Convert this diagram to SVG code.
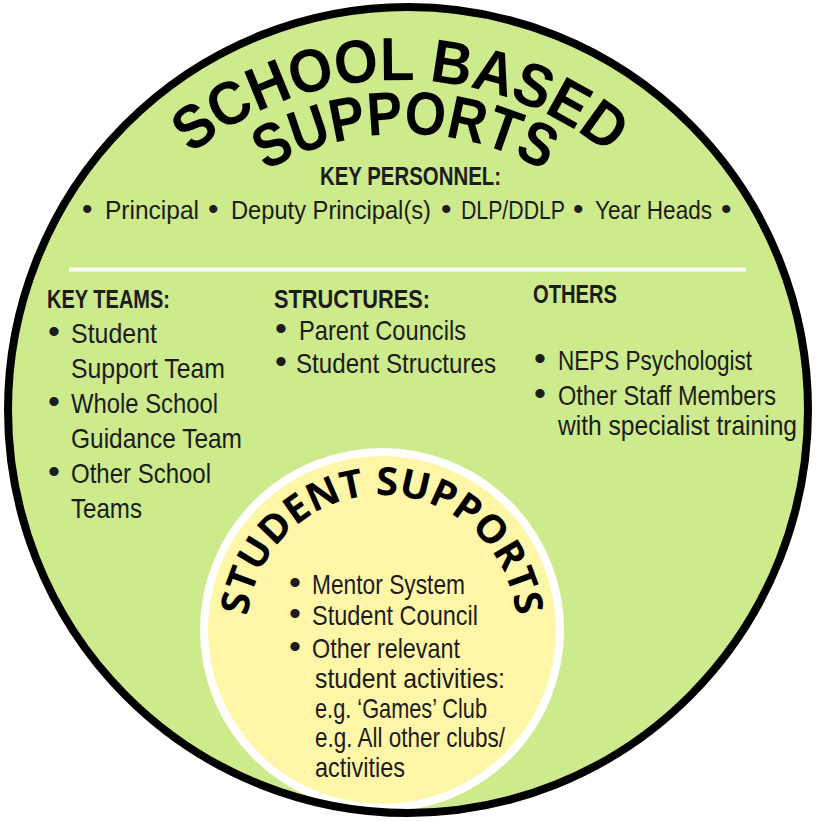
<svg xmlns="http://www.w3.org/2000/svg" width="818" height="821" viewBox="0 0 818 821">
<style>
.t{font-family:"Liberation Sans",Arial,sans-serif;font-size:28px;fill:#1c1c1c}
.b{font-family:"Liberation Sans",Arial,sans-serif;font-size:34px;fill:#1c1c1c}
.h{font-family:"Liberation Sans",Arial,sans-serif;font-size:26px;font-weight:700;fill:#1c1c1c}
.kp{font-family:"Liberation Sans",Arial,sans-serif;font-size:26px;fill:#1c1c1c}
.kb{font-family:"Liberation Sans",Arial,sans-serif;font-size:30px;fill:#1c1c1c}
.title{font-family:"Liberation Sans",Arial,sans-serif;font-size:61px;font-weight:700;fill:#000}
.sub{font-family:"Open Sans","Liberation Sans",sans-serif;font-size:39px;font-weight:700;fill:#000}
</style>
<defs>
<path id="arc1" d="M 70 410 A 330 330 0 0 1 730 410"/>
<path id="arc2" d="M 125 414 A 280 280 0 0 1 685 414"/>
<path id="arc3" d="M 247 630 A 135 135 0 0 1 517 630"/>
<clipPath id="inside"><ellipse cx="408" cy="410" rx="400" ry="403"/></clipPath>
</defs>
<rect width="818" height="821" fill="#ffffff"/>
<g id="school-based-supports">
<ellipse cx="408" cy="410" rx="400" ry="403" fill="#cdea8c"/>
<text class="title"><textPath href="#arc1" startOffset="50%" text-anchor="middle" textLength="452" lengthAdjust="spacingAndGlyphs">SCHOOL BASED</textPath></text>
<text class="title"><textPath href="#arc2" startOffset="50%" text-anchor="middle" textLength="292" lengthAdjust="spacingAndGlyphs">SUPPORTS</textPath></text>
</g>
<g id="key-personnel">
<text class="h" x="320" y="185" textLength="181" lengthAdjust="spacingAndGlyphs">KEY PERSONNEL:</text>
<text y="219"><tspan class="kb" x="82">•</tspan><tspan class="kp" x="105" textLength="94" lengthAdjust="spacingAndGlyphs">Principal</tspan><tspan class="kb" x="208">•</tspan><tspan class="kp" x="231" textLength="200" lengthAdjust="spacingAndGlyphs">Deputy Principal(s)</tspan><tspan class="kb" x="441">•</tspan><tspan class="kp" x="461" textLength="104" lengthAdjust="spacingAndGlyphs">DLP/DDLP</tspan><tspan class="kb" x="573">•</tspan><tspan class="kp" x="595" textLength="117" lengthAdjust="spacingAndGlyphs">Year Heads</tspan><tspan class="kb" x="721">•</tspan></text>
</g>
<g id="connectors">
<line x1="69" y1="269.5" x2="746" y2="269.5" stroke="#ffffff" stroke-width="4"/>
</g>
<g id="key-teams">
<text class="h" x="47" y="308" textLength="123" lengthAdjust="spacingAndGlyphs">KEY TEAMS:</text>
<text y="343"><tspan class="b" x="48">•</tspan><tspan class="t" x="71" textLength="86" lengthAdjust="spacingAndGlyphs">Student</tspan></text>
<text class="t" x="71" y="378" textLength="154" lengthAdjust="spacingAndGlyphs">Support Team</text>
<text y="413"><tspan class="b" x="48">•</tspan><tspan class="t" x="71" textLength="147" lengthAdjust="spacingAndGlyphs">Whole School</tspan></text>
<text class="t" x="71" y="448" textLength="171" lengthAdjust="spacingAndGlyphs">Guidance Team</text>
<text y="483"><tspan class="b" x="48">•</tspan><tspan class="t" x="71" textLength="140" lengthAdjust="spacingAndGlyphs">Other School</tspan></text>
<text class="t" x="71" y="518" textLength="71" lengthAdjust="spacingAndGlyphs">Teams</text>
</g>
<g id="structures">
<text class="h" x="274" y="308" textLength="156" lengthAdjust="spacingAndGlyphs">STRUCTURES:</text>
<text y="340"><tspan class="b" x="275">•</tspan><tspan class="t" x="299" textLength="167" lengthAdjust="spacingAndGlyphs">Parent Councils</tspan></text>
<text y="373"><tspan class="b" x="275">•</tspan><tspan class="t" x="296" textLength="200" lengthAdjust="spacingAndGlyphs">Student Structures</tspan></text>
</g>
<g id="others">
<text class="h" x="533" y="303" textLength="84" lengthAdjust="spacingAndGlyphs">OTHERS</text>
<text y="370"><tspan class="b" x="534">•</tspan><tspan class="t" x="558" textLength="194" lengthAdjust="spacingAndGlyphs">NEPS Psychologist</tspan></text>
<text y="405"><tspan class="b" x="534">•</tspan><tspan class="t" x="558" textLength="218" lengthAdjust="spacingAndGlyphs">Other Staff Members</tspan></text>
<text class="t" x="558" y="435" textLength="239" lengthAdjust="spacingAndGlyphs">with specialist training</text>
</g>
<g id="student-supports" clip-path="url(#inside)">
<circle cx="382" cy="630" r="178" fill="#fff6a8" stroke="#ffffff" stroke-width="8"/>
<text class="sub"><textPath href="#arc3" startOffset="50%" text-anchor="middle" textLength="396" lengthAdjust="spacingAndGlyphs">STUDENT SUPPORTS</textPath></text>
<text y="594"><tspan class="b" x="289">•</tspan><tspan class="t" x="312" textLength="153" lengthAdjust="spacingAndGlyphs">Mentor System</tspan></text>
<text y="625"><tspan class="b" x="289">•</tspan><tspan class="t" x="312" textLength="166" lengthAdjust="spacingAndGlyphs">Student Council</tspan></text>
<text y="658"><tspan class="b" x="289">•</tspan><tspan class="t" x="312" textLength="148" lengthAdjust="spacingAndGlyphs">Other relevant</tspan></text>
<text class="t" x="315" y="688" textLength="190" lengthAdjust="spacingAndGlyphs">student activities:</text>
<text class="t" x="315" y="718" textLength="172" lengthAdjust="spacingAndGlyphs">e.g. ‘Games’ Club</text>
<text class="t" x="315" y="747" textLength="190" lengthAdjust="spacingAndGlyphs">e.g. All other clubs/</text>
<text class="t" x="315" y="777" textLength="90" lengthAdjust="spacingAndGlyphs">activities</text>
</g>
<g id="outer-border">
<ellipse cx="408" cy="410" rx="400" ry="403" fill="none" stroke="#000" stroke-width="8"/>
</g>
</svg>
